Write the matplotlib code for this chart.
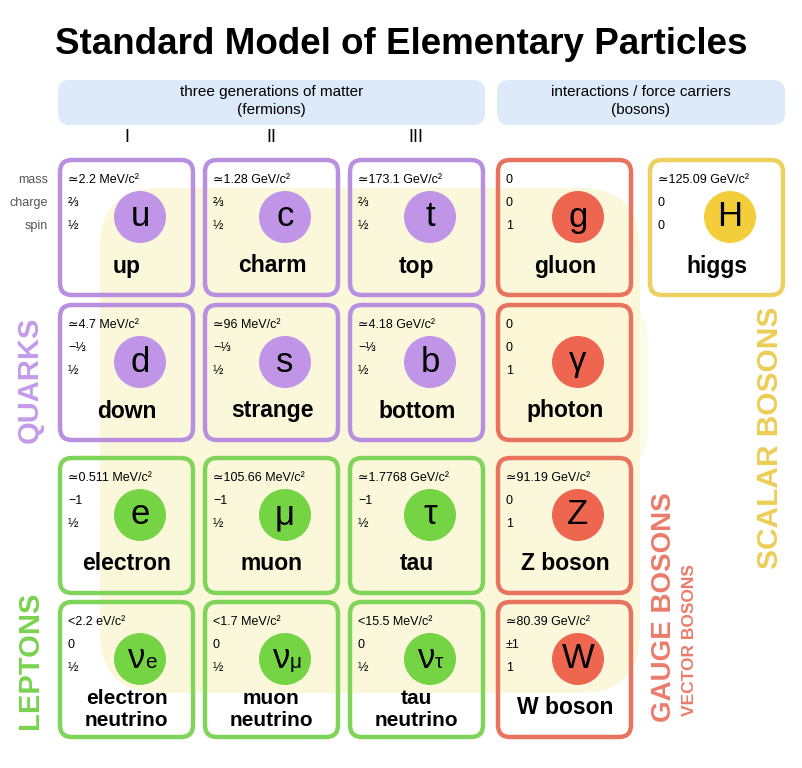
import matplotlib
matplotlib.use("Agg")
import matplotlib.pyplot as plt
from matplotlib.patches import FancyBboxPatch, Circle

names = ["up","charm","top","gluon","higgs",
         "down","strange","bottom","photon",
         "electron","muon","tau","Z boson",
         "electron\nneutrino","muon\nneutrino","tau\nneutrino","W boson"]
symbols = ["u","c","t","g","H","d","s","b","γ","e","μ","τ","Z","νe","νμ","ντ","W"]
masses = ["≃2.2 MeV/c²","≃1.28 GeV/c²","≃173.1 GeV/c²","0","≃125.09 GeV/c²",
          "≃4.7 MeV/c²","≃96 MeV/c²","≃4.18 GeV/c²","0",
          "≃0.511 MeV/c²","≃105.66 MeV/c²","≃1.7768 GeV/c²","≃91.19 GeV/c²",
          "<2.2 eV/c²","<1.7 MeV/c²","<15.5 MeV/c²","≃80.39 GeV/c²"]
charges = ["⅔","⅔","⅔","0","0","−⅓","−⅓","−⅓","0","−1","−1","−1","0","0","0","0","±1"]
spins = ["½","½","½","1","0","½","½","½","1","½","½","½","1","½","½","½","1"]
kinds = ["q","q","q","b","h","q","q","q","b","l","l","l","b","l","l","l","b"]
grid_col = [0,1,2,3,4,0,1,2,3,0,1,2,3,0,1,2,3]
grid_row = [0,0,0,0,0,1,1,1,1,2,2,2,2,3,3,3,3]

col_x = [60, 205, 350, 498, 650]
row_y = [160, 305, 458, 602]
W, H = 133, 135

edge = {"q": "#b98fe0", "l": "#80d45a", "b": "#e8735e", "h": "#ecd160"}
fill = {"q": "#c094e6", "l": "#74d444", "b": "#ee6650", "h": "#f3cd3a"}

plt.rcParams['font.family'] = ['Liberation Sans', 'DejaVu Sans']
fig = plt.figure(figsize=(8.03, 7.68), dpi=100)
ax = fig.add_axes([0, 0, 1, 1])
ax.set_xlim(0, 803); ax.set_ylim(768, 0); ax.axis("off")

ax.text(401, 44, "Standard Model of Elementary Particles", ha="center", va="center",
        fontsize=26.5, fontweight="bold")

for x0, x1, t in [(58, 485, "three generations of matter\n(fermions)"),
                  (497, 785, "interactions / force carriers\n(bosons)")]:
    ax.add_patch(FancyBboxPatch((x0, 80), x1 - x0, 45, boxstyle="round,pad=0,rounding_size=12",
                                fc="#ddeafa", ec="none"))
    ax.text((x0 + x1) / 2, 101, t, ha="center", va="center", fontsize=11, linespacing=1.35)

for x, r in zip([127, 271, 416], ["I", "II", "III"]):
    ax.text(x, 138, r, ha="center", va="center", fontsize=13)

ax.add_patch(FancyBboxPatch((100, 188), 540, 505, boxstyle="round,pad=0,rounding_size=60",
                            fc="#fbf6d4", ec="none", alpha=0.85))
ax.add_patch(FancyBboxPatch((498, 300), 150, 170, boxstyle="round,pad=0,rounding_size=40",
                            fc="#fbf6d4", ec="none", alpha=0.5))

for y, t in zip([180, 203, 226], ["mass", "charge", "spin"]):
    ax.text(48, y, t, ha="right", va="center", fontsize=9, color="#555555")

for i in range(len(names)):
    k = kinds[i]
    x0 = col_x[grid_col[i]]; y0 = row_y[grid_row[i]]
    ax.add_patch(FancyBboxPatch((x0, y0), W, H, boxstyle="round,pad=0,rounding_size=12",
                                fc="none", ec=edge[k], lw=3.2))
    for j, t in enumerate([masses[i], charges[i], spins[i]]):
        ax.text(x0 + 8, y0 + 20 + 23 * j, t, ha="left", va="center", fontsize=9)
    cx, cy = x0 + 80, y0 + 57
    ax.add_patch(Circle((cx, cy), 26, fc=fill[k], ec="none"))
    s = symbols[i]
    if len(s) == 2:
        ax.text(cx + 5, cy, s[0], ha="right", va="center", fontsize=25)
        ax.text(cx + 5, cy + 4, s[1], ha="left", va="center", fontsize=15)
    else:
        ax.text(cx, cy, s, ha="center", va="center", fontsize=25)
    if "\n" in names[i]:
        ax.text(x0 + W / 2, y0 + 107, names[i], ha="center", va="center", fontsize=15,
                fontweight="bold", linespacing=1.2)
    else:
        ax.text(x0 + 67, y0 + 106, names[i], ha="center", va="center", fontsize=16.5,
                fontweight="bold")

ax.text(30, 380, "QUARKS", rotation=90, ha="center", va="center", fontsize=21,
        fontweight="bold", color="#c49be8")
ax.text(30, 660, "LEPTONS", rotation=90, ha="center", va="center", fontsize=21,
        fontweight="bold", color="#7ad24e")
ax.text(664, 607, "GAUGE BOSONS", rotation=90, ha="center", va="center", fontsize=20,
        fontweight="bold", color="#eb7b6a")
ax.text(690, 640, "VECTOR BOSONS", rotation=90, ha="center", va="center", fontsize=12.5,
        fontweight="bold", color="#eb7b6a")
ax.text(770, 438, "SCALAR BOSONS", rotation=90, ha="center", va="center", fontsize=21.5,
        fontweight="bold", color="#eccd55")

fig.savefig("out.png", dpi=100)
